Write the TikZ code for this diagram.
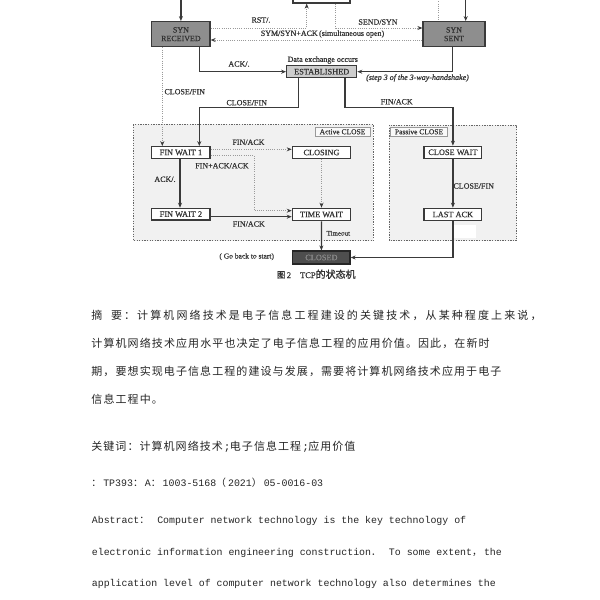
\documentclass[tikz,border=0pt]{standalone}
\usepackage{fontspec}
\setmainfont{Liberation Serif}
\newfontfamily\diag[FakeBold=0.6]{Liberation Serif}
\newfontfamily\cjk{Noto Sans CJK SC}
\newfontfamily\cjkb[FakeBold=1.2]{Noto Sans CJK SC}
\newfontfamily\mono{Liberation Mono}
\usetikzlibrary{arrows.meta}
\definecolor{ink}{HTML}{333333}
\definecolor{linec}{HTML}{3A3A3A}
\definecolor{dotc}{HTML}{9A9A9A}
\definecolor{synfill}{HTML}{8E8E8E}
\definecolor{estfill}{HTML}{CDCDCD}
\definecolor{closedfill}{HTML}{4E4E4E}
\definecolor{closedtxt}{HTML}{8A8A8A}
\definecolor{regfill}{HTML}{F1F1F1}
\definecolor{regline}{HTML}{666666}
\definecolor{bodyc}{HTML}{262626}
\makeatletter
\newcommand\cjkcells[2]{\begingroup\def\cc@w{#1}\@tfor\cc@c:=#2\do{\makebox[\cc@w][l]{\cc@c}}\endgroup}
\makeatother
\begin{document}
\begin{tikzpicture}[x=1pt,y=-1pt,
 lab/.style={font=\diag\fontsize{8}{9}\selectfont, text=ink, inner sep=0pt},
 statebox/.style={draw=linec, line width=1.2pt, fill=white, inner sep=0pt, minimum height=12pt, font=\diag\fontsize{8.3}{9}\selectfont, text=ink},
 synbox/.style={statebox, fill=synfill, minimum height=25pt, align=center, font=\diag\fontsize{8}{8.6}\selectfont},
 estbox/.style={statebox, fill=estfill},
 closedbox/.style={statebox, fill=closedfill, text=closedtxt, draw=black!85},
 region/.style={draw=regline, line width=1pt, dash pattern=on 1.3pt off 1.3pt, fill=regfill},
 tagbox/.style={draw=gray!80, line width=0.6pt, fill=white!60!regfill, inner sep=0pt, minimum height=9.7pt, font=\diag\fontsize{7.5}{8}\selectfont, text=ink},
 sol/.style={draw=linec, line width=1.3pt, -{Stealth[length=5pt,width=4pt]}},
 dot/.style={draw=dotc, line width=0.8pt, dash pattern=on 1pt off 1.2pt, -{Stealth[length=5pt,width=4pt,color=linec]}},
 dotplain/.style={draw=dotc, line width=0.8pt, dash pattern=on 1pt off 1.2pt},
 bodytext/.style={anchor=base west, inner sep=0pt, text=bodyc}
]
\useasboundingbox (0,0) rectangle (600,600);
\fill[white] (0,0) rectangle (600,600);

% regions
\draw[region] (133.3,124.3) rectangle (373.3,240.7);
\draw[region] (389.3,125) rectangle (516.7,240.7);
\node[tagbox, minimum width=55pt] (actlab) at (342.5,131.8) {Active CLOSE};
\node[tagbox, minimum width=56.6pt] (paslab) at (419,131.8) {Passive CLOSE};
\fill[white] (453.3,225) rectangle (476,238.3);

% states
\node[statebox, minimum width=57pt, minimum height=16pt] (listen) at (321.5,-5) {};
\node[synbox, minimum width=58.3pt] (synr) at (180.9,34.2) {SYN\\RECEIVED};
\node[synbox, minimum width=62pt] (syns) at (454,34.2) {SYN\\SENT};
\node[estbox, minimum width=70pt] (est) at (321.7,71.7) {ESTABLISHED};
\node[statebox, minimum width=58.3pt, minimum height=11.6pt] (fw1) at (180.9,152.5) {FIN WAIT 1};
\node[statebox, minimum width=58.4pt] (closing) at (321.5,152.5) {CLOSING};
\node[statebox, minimum width=58.3pt, minimum height=11.7pt] (fw2) at (180.9,214.2) {FIN WAIT 2};
\node[statebox, minimum width=58.4pt, minimum height=12.4pt] (timewait) at (321.5,214.5) {TIME WAIT};
\node[statebox, minimum width=57.7pt] (closewait) at (452.9,152.3) {CLOSE WAIT};
\node[statebox, minimum width=57.7pt, minimum height=12.4pt] (lastack) at (452.9,214.5) {LAST ACK};
\node[closedbox, minimum width=57.3pt, minimum height=13pt] (closed) at (321.4,257.5) {CLOSED};

% connectors
\coordinate (ta) at (180.9,-3);
\coordinate (tb) at (465.7,-3);
\coordinate (tc) at (438,-3);
\draw[sol] (ta) -- (synr.north);
\draw[sol] (tb) -- (tb |- syns.north);
\draw[dotplain] (tc) -- (tc |- syns.north);
\draw[dot] (synr.east |- 0,28) -| (306.7,0 |- listen.south);
\draw[dot] (335.7,0 |- listen.south) |- (syns.west |- 0,28);
\draw[dot] (syns.west |- 0,40) -- (synr.east |- 0,40);
\draw[sol] (199.3,0 |- synr.south) |- (est.west);
\draw[sol] (452.7,0 |- syns.south) |- (est.east);
\draw[dot] (162.3,0 |- synr.south) -- (162.3,0 |- fw1.north);
\draw[sol] (298.3,0 |- est.south) -- (298.3,107.3) -| (199.3,0 |- fw1.north);
\draw[sol] (345,0 |- est.south) -- (345,107.7) -| (closewait.north);
\draw[dot] (fw1.east |- 0,149.3) -- (closing.west |- 0,149.3);
\draw[dot] (fw1.east |- 0,155.7) -| (254.3,210.7) -- (timewait.west |- 0,210.7);
\draw[sol] (180,0 |- fw1.south) -- (180,0 |- fw2.north);
\draw[sol] (fw2.east |- 0,216.7) -- (timewait.west |- 0,216.7);
\draw[dot] (closing.south) -- (timewait.north);
\draw[sol] (timewait.south) -- (closed.north);
\draw[sol] (closewait.south) -- (lastack.north);
\draw[sol] (lastack.south) |- (closed.east);

% labels
\node[lab] (l1) at (261,20) {RST/.};
\node[lab] (l2) at (378,22) {SEND/SYN};
\node[lab] (l3) at (322.5,34) {SYM/SYN+ACK\,(simultaneous open)};
\node[lab] (l4) at (322.7,60) {Data exchange occurs};
\node[lab] (l5) at (239,64) {ACK/.};
\node[lab, font=\diag\itshape\fontsize{8}{9}\selectfont] (l6) at (417.5,78) {(step 3 of the 3-way-handshake)};
\node[lab, anchor=west] (l7) at (164.3,91.7) {CLOSE/FIN};
\node[lab] (l8) at (246.7,102.7) {CLOSE/FIN};
\node[lab] (l9) at (396.7,101.7) {FIN/ACK};
\node[lab] (l10) at (248.5,142.3) {FIN/ACK};
\node[lab] (l11) at (222,165.7) {FIN+ACK/ACK};
\node[lab] (l12) at (165,179.3) {ACK/.};
\node[lab] (l13) at (248.8,224) {FIN/ACK};
\node[lab, font=\diag\fontsize{7}{8}\selectfont] (l14) at (338.3,233.3) {Timeout};
\node[lab] (l15) at (473.7,186) {CLOSE/FIN};
\node[lab, font=\diag\fontsize{7.5}{8}\selectfont] (l16) at (246.7,256.7) {( Go back to start)};
\node[lab, anchor=base west, font=\diag\fontsize{8.5}{9}\selectfont] (cap) at (276.7,278) {{\cjkb\fontsize{8.5}{9}\selectfont 图}\,2\hspace{9pt}TCP{\cjkb\fontsize{10}{10}\selectfont 的状态机}};

% body text
\node[bodytext, font=\cjk\fontsize{11}{11}\selectfont] (p1) at (91.2,319.9) {\cjkcells{13.11pt}{摘}\makebox[6.5pt]{}\cjkcells{13.11pt}{要：计算机网络技术是电子信息工程建设的关键技术，从某种程度上来说，}};
\node[bodytext, font=\cjk\fontsize{11}{11}\selectfont] (p2) at (91.2,347.5) {\cjkcells{12.1pt}{计算机网络技术应用水平也决定了电子信息工程的应用价值。因此，在新时}};
\node[bodytext, font=\cjk\fontsize{11}{11}\selectfont] (p3) at (91.2,375.2) {\cjkcells{12.09pt}{期，要想实现电子信息工程的建设与发展，需要将计算机网络技术应用于电子}};
\node[bodytext, font=\cjk\fontsize{11}{11}\selectfont] (p4) at (91.2,403.2) {\cjkcells{12.1pt}{信息工程中。}};
\node[bodytext, font=\cjk\fontsize{11}{11}\selectfont] (p5) at (91.2,450.9) {\cjkcells{12.05pt}{关键词：计算机网络技术}\makebox[6pt][l]{\mono;}\cjkcells{12.05pt}{电子信息工程}\makebox[6pt][l]{\mono;}\cjkcells{12.05pt}{应用价值}};
\node[bodytext, font=\mono\fontsize{9.9}{10}\selectfont] (p6) at (91.2,486.8) {\makebox[11.9pt][l]{\cjk ：}TP393\makebox[11.9pt][l]{\cjk ：}A\makebox[11.9pt][l]{\cjk ：}1003-5168\makebox[11.9pt][l]{\cjk （}2021\makebox[11.9pt][l]{\cjk ）}05-0016-03};
\node[bodytext, font=\mono\fontsize{9.9}{10}\selectfont] (p7) at (91.7,523.3) {Abstract\makebox[11.9pt][l]{\cjk ：}\ Computer network technology is the key technology of};
\node[bodytext, font=\mono\fontsize{9.9}{10}\selectfont] (p8) at (91.7,555) {electronic information engineering construction\makebox[11.9pt][l]{\cjk ．}\ To some extent\makebox[11.9pt][l]{\cjk ，}the};
\node[bodytext, font=\mono\fontsize{9.9}{10}\selectfont] (p9) at (91.7,586.7) {application level of computer network technology also determines the};
\end{tikzpicture}
\end{document}
